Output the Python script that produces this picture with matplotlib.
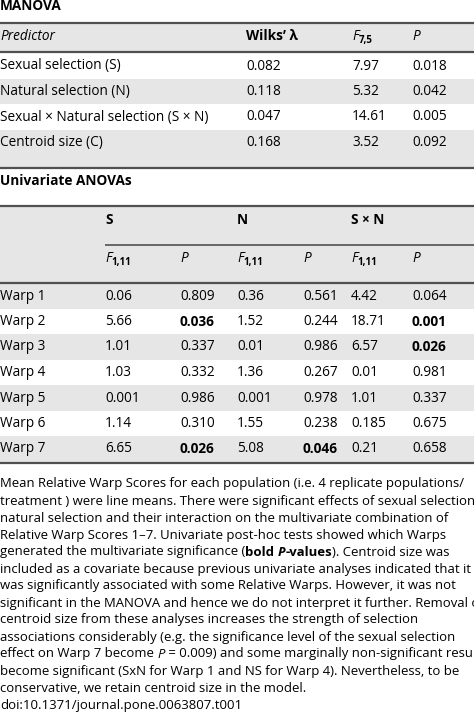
import matplotlib
matplotlib.use('Agg')
import matplotlib.pyplot as plt

# ---- data ----
manova_predictors = ["Sexual selection (S)", "Natural selection (N)",
                     "Sexual \u00d7 Natural selection (S \u00d7 N)", "Centroid size (C)"]
manova_wilks = ["0.082", "0.118", "0.047", "0.168"]
manova_f = ["7.97", "5.32", "14.61", "3.52"]
manova_p = ["0.018", "0.042", "0.005", "0.092"]

warps = ["Warp 1", "Warp 2", "Warp 3", "Warp 4", "Warp 5", "Warp 6", "Warp 7"]
s_f = ["0.06", "5.66", "1.01", "1.03", "0.001", "1.14", "6.65"]
s_p = ["0.809", "0.036", "0.337", "0.332", "0.986", "0.310", "0.026"]
n_f = ["0.36", "1.52", "0.01", "1.36", "0.001", "1.55", "5.08"]
n_p = ["0.561", "0.244", "0.986", "0.267", "0.978", "0.238", "0.046"]
sn_f = ["4.42", "18.71", "6.57", "0.01", "1.01", "0.185", "0.21"]
sn_p = ["0.064", "0.001", "0.026", "0.981", "0.337", "0.675", "0.658"]
bold_cells = {("s", 1), ("s", 6), ("n", 6), ("sn", 1), ("sn", 2)}

footnote = [
    [("Mean Relative Warp Scores for each population (i.e. 4 replicate populations/", "n", "n")],
    [("treatment ) were line means. There were significant effects of sexual selection,", "n", "n")],
    [("natural selection and their interaction on the multivariate combination of", "n", "n")],
    [("Relative Warp Scores 1\u20137. Univariate post-hoc tests showed which Warps", "n", "n")],
    [("generated the multivariate significance (", "n", "n"), ("bold ", "b", "n"),
     ("P", "b", "i"), ("-values", "b", "n"), ("). Centroid size was", "n", "n")],
    [("included as a covariate because previous univariate analyses indicated that it", "n", "n")],
    [("was significantly associated with some Relative Warps. However, it was not", "n", "n")],
    [("significant in the MANOVA and hence we do not interpret it further. Removal of", "n", "n")],
    [("centroid size from these analyses increases the strength of selection", "n", "n")],
    [("associations considerably (e.g. the significance level of the sexual selection", "n", "n")],
    [("effect on Warp 7 become ", "n", "n"), ("P", "n", "i"), (" = 0.009) and some marginally non-significant results", "n", "n")],
    [("become significant (SxN for Warp 1 and NS for Warp 4). Nevertheless, to be", "n", "n")],
    [("conservative, we retain centroid size in the model.", "n", "n")],
    [("doi:10.1371/journal.pone.0063807.t001", "n", "n")],
]

FONT = "Open Sans"
FS = 9.8
FS_NOTE = 9.45
GRAY = "#e6e6e6"
RULE = "#505050"
INK = "#000000"

fig = plt.figure(figsize=(4.74, 7.15), dpi=100)
ax = fig.add_axes([0, 0, 1, 1])
ax.set_xlim(0, 474)
ax.set_ylim(715, 0)
ax.axis('off')
fig.canvas.draw()
renderer = fig.canvas.get_renderer()


def runs(x, y, parts, size=FS_NOTE):
    # draw text pieces one after the other, advancing x by their width
    for txt, w, s in parts:
        t = ax.text(x, y, txt, fontsize=size, family=FONT, va='center', ha='left',
                    fontweight='bold' if w == "b" else 'normal',
                    fontstyle='italic' if s == "i" else 'normal', color=INK)
        bb = t.get_window_extent(renderer)
        x += bb.width


def ftext(x, y, sub):
    # italic F with bold subscript
    t = ax.text(x, y, "F", fontsize=FS, family=FONT, style='italic', va='center', color=INK)
    w = t.get_window_extent(renderer).width
    ax.text(x + w, y + 4, sub, fontsize=FS * 0.72, family=FONT, fontweight='bold',
            va='center', color=INK)


def txt(x, y, s, bold=False, italic=False):
    ax.text(x, y, s, fontsize=FS, family=FONT, va='center', ha='left',
            fontweight='bold' if bold else 'normal',
            fontstyle='italic' if italic else 'normal', color=INK)


def rule(y, x0=0, x1=474, lw=1.6):
    ax.plot([x0, x1], [y, y], color=RULE, lw=lw, solid_capstyle='butt')


def band(y0, y1):
    ax.fill_between([0, 474], y0, y1, color=GRAY, lw=0)


# ---- MANOVA block ----
txt(0, 6, "MANOVA", bold=True)
band(23, 52)
rule(23)
txt(0, 36, "Predictor", italic=True)
txt(246, 36, "Wilks\u2019 \u03bb", bold=True)
ftext(352, 37, "7,5")
txt(412, 36, "P", italic=True)
rule(52)
row_h = 25.5
for i, name in enumerate(manova_predictors):
    yc = 66 + i * row_h
    if i % 2 == 1:
        band(yc - 13, yc + 12.5 if i < 3 else 168)
    txt(0, yc, name)
    txt(246, yc, manova_wilks[i])
    txt(352, yc, manova_f[i])
    txt(412, yc, manova_p[i])
rule(168)

# ---- Univariate block ----
txt(0, 181, "Univariate ANOVAs", bold=True)
band(206, 283)
rule(206)
txt(105, 220, "S", bold=True)
txt(237, 220, "N", bold=True)
txt(351, 220, "S \u00d7 N", bold=True)
rule(245, x0=105, lw=1.2)
for fx in (105, 237, 351):
    ftext(fx, 258, "1,11")
for px in (180, 303, 412):
    txt(px, 258, "P", italic=True)
rule(283)

cols = [(105, s_f, None), (180, s_p, "s"), (237, n_f, None), (303, n_p, "n"),
        (351, sn_f, None), (412, sn_p, "sn")]
for i, w in enumerate(warps):
    yc = 296 + i * 25.5
    if i % 2 == 0:
        band(yc - 12.75, yc + 12.75)
    txt(0, yc, w)
    for cx, vals, key in cols:
        txt(cx, yc, vals[i], bold=(key is not None and (key, i) in bold_cells))
rule(463)

# ---- footnote ----
for j, parts in enumerate(footnote):
    runs(0, 484 + j * 17.0, parts)

fig.savefig("out.png", dpi=100)
